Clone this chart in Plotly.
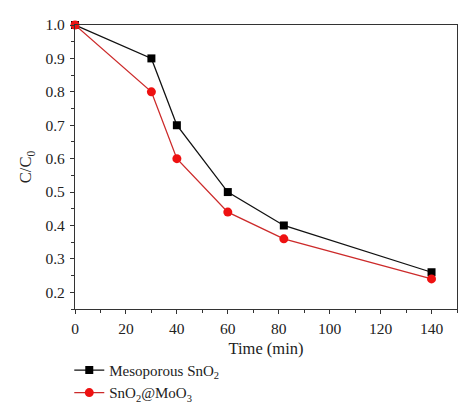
import plotly.graph_objects as go

time_min = [0, 30, 40, 60, 82, 140]
meso_sno2 = [1.0, 0.9, 0.7, 0.5, 0.4, 0.26]
sno2_moo3 = [1.0, 0.8, 0.6, 0.44, 0.36, 0.24]

FONT = "Liberation Serif"
AX = "#333333"

fig = go.Figure()
fig.add_trace(go.Scatter(
    x=time_min, y=meso_sno2, mode="lines+markers",
    name="Mesoporous SnO<sub>2</sub>",
    line=dict(color="#111111", width=1.3),
    marker=dict(symbol="square", size=8, color="#000000"),
    cliponaxis=False,
))
fig.add_trace(go.Scatter(
    x=time_min, y=sno2_moo3, mode="lines+markers",
    name="SnO<sub>2</sub>@MoO<sub>3</sub>",
    line=dict(color="#cc2a2a", width=1.3),
    marker=dict(symbol="circle", size=9, color="#ee1111"),
    cliponaxis=False,
))

fig.update_layout(
    width=474, height=418,
    margin=dict(l=75, r=17, t=25, b=109, autoexpand=False),
    paper_bgcolor="white", plot_bgcolor="white",
    font=dict(family=FONT, size=15.5, color="#222222"),
    showlegend=True,
    legend=dict(x=-0.015, xanchor="left", y=-0.158, yanchor="top",
                bgcolor="rgba(0,0,0,0)", font=dict(size=15),
                tracegroupgap=0, itemwidth=30),
    xaxis=dict(
        range=[0, 150], dtick=20, tick0=0, automargin=False,
        showgrid=False, zeroline=False,
        showline=True, linecolor=AX, linewidth=1.3, mirror=True,
        ticks="outside", ticklen=4, tickcolor=AX, tickwidth=1.2,
        minor=dict(ticks="outside", ticklen=3, dtick=10, tickcolor=AX),
        title=dict(text="Time (min)", font=dict(size=16.5), standoff=6),
        tickfont=dict(size=15.5), ticklabelstandoff=1,
    ),
    yaxis=dict(
        range=[0.15, 1.0], dtick=0.1, tick0=0.2, tickformat=".1f", automargin=False,
        showgrid=False, zeroline=False,
        showline=True, linecolor=AX, linewidth=1.3, mirror=True,
        ticks="outside", ticklen=4, tickcolor=AX, tickwidth=1.2,
        minor=dict(ticks="outside", ticklen=3, dtick=0.05, tickcolor=AX),
        title=dict(text="C/C<sub>0</sub>", font=dict(size=16.5), standoff=9),
        tickfont=dict(size=15.5), ticklabelstandoff=2,
    ),
)

fig.write_html("out.html")
